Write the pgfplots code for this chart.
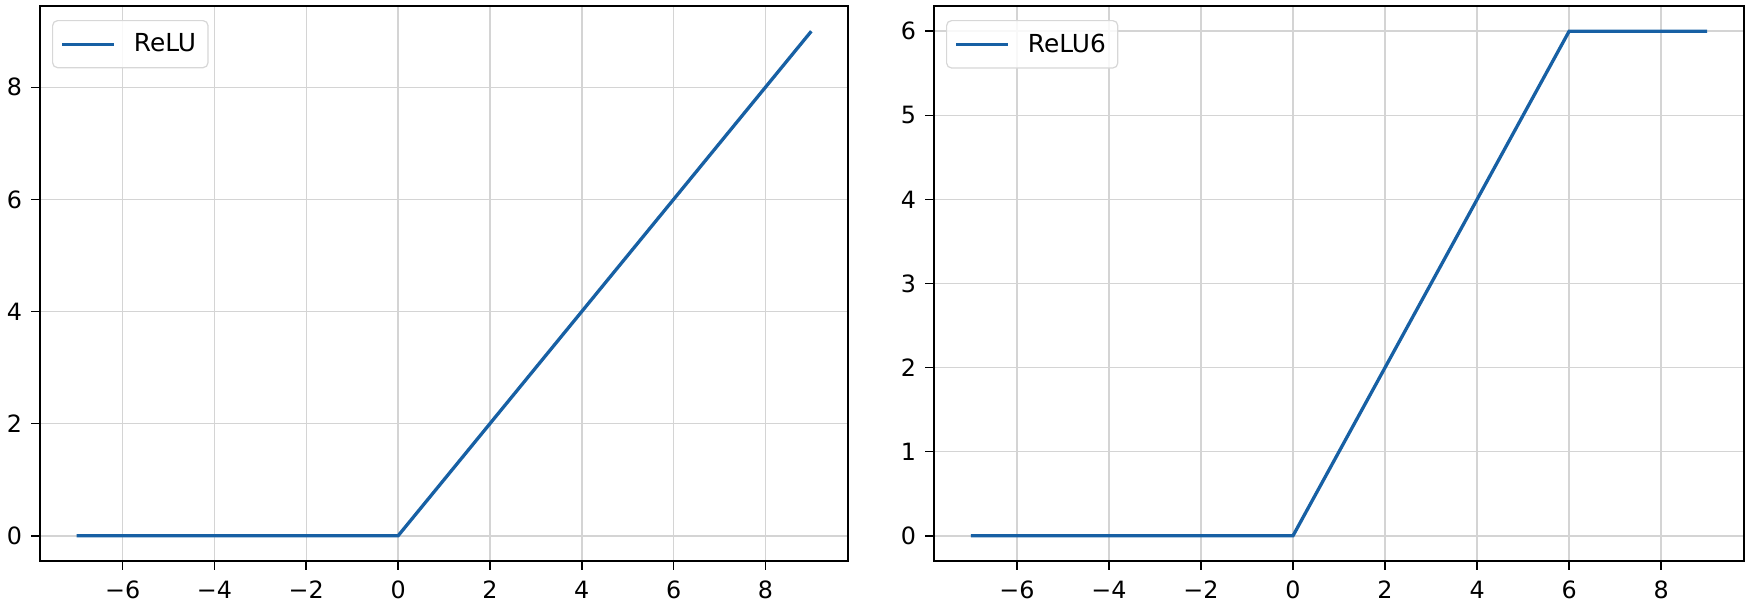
\documentclass[border=0pt]{standalone}
\usepackage{fontspec}
\setmainfont{DejaVu Sans}
\usepackage{pgfplots}
\pgfplotsset{compat=1.18}
\definecolor{lineblue}{RGB}{23,96,164}
\definecolor{gridgray}{RGB}{212,212,212}
\definecolor{leggray}{RGB}{215,215,215}
\pgfplotsset{
  myaxis/.style={
    scale only axis,
    anchor=south west,
    xmin=-7.8, xmax=9.8,
    xtick={-6,-4,-2,0,2,4,6,8},
    xticklabels={−6,−4,−2,0,2,4,6,8},
    grid=major,
    major grid style={color=gridgray, line width=0.75pt},
    axis line style={line width=1pt, black},
    tick style={line width=0.8pt, black},
    tick align=outside,
    major tick length=4.5pt,
    xtick pos=bottom, ytick pos=left,
    /pgf/number format/assume math mode=true,
    tick label style={font=\fontsize{11.9}{14}\selectfont},
    xticklabel style={yshift=-2pt},
    yticklabel style={xshift=-1pt},
    legend style={at={(0,1)}, anchor=north west, xshift=6pt, yshift=-7pt,
      draw=leggray, line width=0.6pt, rounded corners=2.5pt, fill=white, fill opacity=0.85, text opacity=1,
      font=\fontsize{12.4}{14.5}\selectfont, inner xsep=4pt, inner ysep=4.5pt},
    legend cell align=left,
    legend image code/.code={\draw[#1] (0pt,0pt) -- (26pt,0pt); \path (33pt,0pt);},
  }
}
\begin{document}
\begin{tikzpicture}
\useasboundingbox (0,0) rectangle (876.5pt,302.5pt);
\begin{axis}[myaxis, at={(20pt,22pt)}, width=404pt, height=277.5pt,
  ymin=-0.45, ymax=9.45, ytick={0,2,4,6,8}]
\addplot[lineblue, line width=1.65pt] coordinates {(-7,0) (0,0) (9,9)};
\addlegendentry{ReLU}
\end{axis}
\begin{axis}[myaxis, at={(467pt,22pt)}, width=405pt, height=277.5pt,
  ymin=-0.3, ymax=6.3, ytick={0,1,2,3,4,5,6}]
\addplot[lineblue, line width=1.65pt] coordinates {(-7,0) (0,0) (6,6) (9,6)};
\addlegendentry{ReLU6}
\end{axis}
\end{tikzpicture}
\end{document}
